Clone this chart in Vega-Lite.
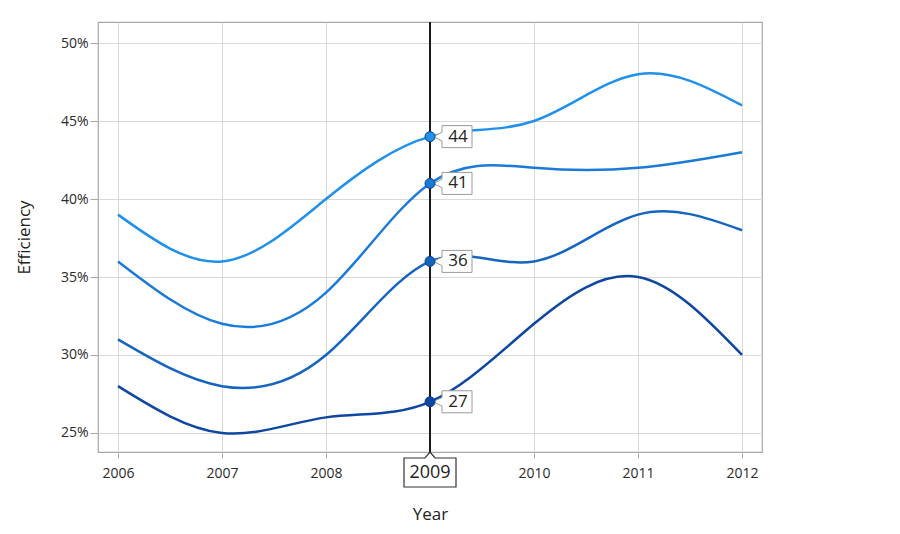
{
  "$schema": "https://vega.github.io/schema/vega-lite/v6.json",
  "width": 664,
  "height": 430,
  "autosize": "none",
  "padding": {"left": 98, "top": 22, "right": 138, "bottom": 82},
  "background": "white",
  "config": {
    "font": "Open Sans",
    "view": {"stroke": "#a8a8a8", "strokeWidth": 1.2},
    "axis": {
      "gridColor": "#d9d9d9",
      "gridWidth": 1,
      "domain": false,
      "tickColor": "#a8a8a8",
      "labelColor": "#2a2a2a",
      "labelFontSize": 14,
      "titleColor": "#222222",
      "titleFontSize": 17,
      "titleFontWeight": "normal"
    }
  },
  "data": {
    "values": [
      {"year": 2006, "series": "A", "value": 39},
      {"year": 2007, "series": "A", "value": 36},
      {"year": 2008, "series": "A", "value": 40},
      {"year": 2009, "series": "A", "value": 44},
      {"year": 2010, "series": "A", "value": 45},
      {"year": 2011, "series": "A", "value": 48},
      {"year": 2012, "series": "A", "value": 46},
      {"year": 2006, "series": "B", "value": 36},
      {"year": 2007, "series": "B", "value": 32},
      {"year": 2008, "series": "B", "value": 34},
      {"year": 2009, "series": "B", "value": 41},
      {"year": 2010, "series": "B", "value": 42},
      {"year": 2011, "series": "B", "value": 42},
      {"year": 2012, "series": "B", "value": 43},
      {"year": 2006, "series": "C", "value": 31},
      {"year": 2007, "series": "C", "value": 28},
      {"year": 2008, "series": "C", "value": 30},
      {"year": 2009, "series": "C", "value": 36},
      {"year": 2010, "series": "C", "value": 36},
      {"year": 2011, "series": "C", "value": 39},
      {"year": 2012, "series": "C", "value": 38},
      {"year": 2006, "series": "D", "value": 28},
      {"year": 2007, "series": "D", "value": 25},
      {"year": 2008, "series": "D", "value": 26},
      {"year": 2009, "series": "D", "value": 27},
      {"year": 2010, "series": "D", "value": 32},
      {"year": 2011, "series": "D", "value": 35},
      {"year": 2012, "series": "D", "value": 30}
    ]
  },
  "encoding": {
    "x": {
      "field": "year",
      "type": "quantitative",
      "scale": {"domain": [2005.808, 2012.192], "nice": false, "zero": false},
      "axis": {
        "title": "Year",
        "values": [2006, 2007, 2008, 2009, 2010, 2011, 2012],
        "labelExpr": "datum.value == 2009 ? '' : datum.value + ''",
        "tickSize": 6,
        "labelPadding": 8,
        "titlePadding": 26
      }
    },
    "y": {
      "field": "value",
      "type": "quantitative",
      "scale": {"domain": [23.78, 51.35], "nice": false, "zero": false},
      "axis": {
        "title": "Efficiency",
        "values": [25, 30, 35, 40, 45, 50],
        "labelExpr": "datum.value + '%'",
        "tickSize": 8,
        "labelPadding": 2,
        "titlePadding": 27
      }
    },
    "color": {
      "field": "series",
      "type": "nominal",
      "scale": {"domain": ["A", "B", "C", "D"], "range": ["#2090ea", "#1b7ad8", "#1565c0", "#0d47a1"]},
      "legend": null
    }
  },
  "layer": [
    {
      "mark": {"type": "line", "interpolate": "natural", "strokeWidth": 2.5}
    },
    {
      "transform": [{"filter": "datum.series == 'A'"}, {"filter": "datum.year == 2009"}],
      "mark": {"type": "rule", "color": "#1a1a1a", "strokeWidth": 2},
      "encoding": {"y": null, "color": null}
    },
    {
      "transform": [{"filter": "datum.year == 2009"}],
      "mark": {
        "type": "point",
        "shape": "M0.286,-0.262L1,-0.262L1,0.262L0.286,0.262L0.286,0.1L0.07,0L0.286,-0.1Z",
        "size": 7056,
        "filled": true,
        "fill": "white",
        "stroke": "#9a9a9a",
        "strokeWidth": 1,
        "opacity": 1
      },
      "encoding": {"color": null}
    },
    {
      "transform": [{"filter": "datum.year == 2009"}],
      "mark": {"type": "text", "dx": 28, "fontSize": 17, "color": "#222222", "align": "center", "baseline": "middle"},
      "encoding": {"text": {"field": "value", "type": "quantitative"}, "color": null}
    },
    {
      "transform": [{"filter": "datum.year == 2009"}],
      "mark": {"type": "point", "filled": true, "size": 100, "opacity": 1, "strokeWidth": 1, "stroke": "#0b3f8f"}
    },
    {
      "transform": [{"filter": "datum.series == 'A'"}, {"filter": "datum.year == 2009"}],
      "mark": {
        "type": "point",
        "shape": "M-0.743,0.171L-0.143,0.171L0,0L0.143,0.171L0.743,0.171L0.743,1L-0.743,1Z",
        "size": 4900,
        "filled": true,
        "fill": "white",
        "stroke": "#333333",
        "strokeWidth": 1.2,
        "opacity": 1
      },
      "encoding": {"y": {"value": "height"}, "color": null}
    },
    {
      "transform": [{"filter": "datum.series == 'A'"}, {"filter": "datum.year == 2009"}],
      "mark": {"type": "text", "dy": 21, "fontSize": 18, "color": "#222222", "align": "center", "baseline": "middle"},
      "encoding": {"y": {"value": "height"}, "text": {"field": "year", "type": "quantitative", "format": "d"}, "color": null}
    }
  ]
}
